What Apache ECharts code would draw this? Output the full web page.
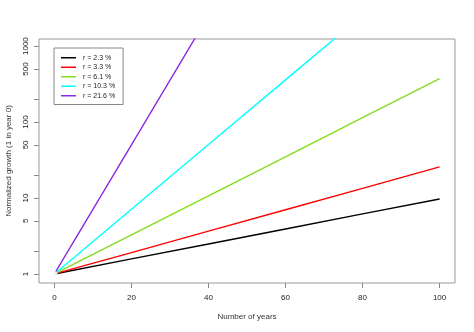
<!DOCTYPE html>
<html>
<head>
<meta charset="utf-8">
<script src="https://cdn.jsdelivr.net/npm/echarts@6/dist/echarts.min.js"></script>
<style>html,body{margin:0;padding:0;background:#fff}#c{width:474px;height:332px}</style>
</head>
<body>
<div id="c"></div>
<script>
// Years sampled along the x axis
const years = [0, 20, 40, 60, 80, 100];
// Normalized growth values (1 in year 0)
const r23  = [1, 1.58, 2.48, 3.91, 6.17, 9.7];
const r33  = [1, 1.91, 3.66, 7.0, 13.4, 25.7];
const r61  = [1, 3.27, 10.7, 34.9, 114, 373];
const r103 = [1, 7.1, 50.5, 359, 2550, 18100];
const r216 = [1, 50.2, 2520];
const seriesNames = ['r = 2.3 %', 'r = 3.3 %', 'r = 6.1 %', 'r = 10.3 %', 'r = 21.6 %'];
const seriesValues = [r23, r33, r61, r103, r216];
const colors = ['#000000', '#ff0000', '#7fdf1f', '#00ffff', '#8b2be2'];
const yTicks = [1, 2, 5, 10, 20, 50, 100, 200, 500, 1000];
const yLabels = [1, 5, 10, 50, 100, 500, 1000];
const xTicks = [0, 20, 40, 60, 80, 100];

const font = 'Liberation Sans, Arial, sans-serif';
const series = seriesNames.map((n, i) => ({
  name: n,
  type: 'line',
  data: seriesValues[i].map((v, k) => [years[k], v]),
  showSymbol: false,
  symbol: 'none',
  clip: true,
  lineStyle: { color: colors[i], width: 1.4 },
  itemStyle: { color: colors[i] },
  z: 3
}));
series.push({
  type: 'scatter',
  data: [[years[0], r23[0]]],
  symbol: 'emptyCircle',
  symbolSize: 4,
  itemStyle: { color: '#fff', borderColor: '#7b7bb0', borderWidth: 1 },
  z: 4,
  silent: true
});

const chart = echarts.init(document.getElementById('c'), null, { renderer: 'canvas' });
chart.setOption({
  animation: false,
  backgroundColor: '#fff',
  grid: { left: 39, right: 19, top: 39, bottom: 49, show: true, borderColor: '#999', borderWidth: 1, containLabel: false, outerBoundsMode: 'none' },
  xAxis: {
    type: 'value', min: -4, max: 104,
    name: 'Number of years', nameLocation: 'middle', nameGap: 30,
    nameTextStyle: { fontFamily: font, fontSize: 8, color: '#333' },
    axisLine: { show: false, onZero: false },
    splitLine: { show: false },
    axisTick: { show: true, length: 5, inside: false, customValues: xTicks, lineStyle: { color: '#888' } },
    axisLabel: { customValues: xTicks, margin: 11, fontFamily: font, fontSize: 8, color: '#222' }
  },
  yAxis: {
    type: 'log', logBase: 10, min: 0.76, max: 1240,
    name: 'Normalized growth (1 in year 0)', nameLocation: 'middle', nameGap: 26, nameRotate: 90,
    nameTextStyle: { fontFamily: font, fontSize: 8, color: '#333' },
    axisLine: { show: false, onZero: false },
    splitLine: { show: false },
    minorTick: { show: false },
    axisTick: { show: true, length: 5, inside: false, customValues: yTicks, lineStyle: { color: '#888' } },
    axisLabel: { customValues: yLabels, rotate: 90, margin: 9, fontFamily: font, fontSize: 8, color: '#222',
      formatter: function (v) { return String(Math.round(v)); } }
  },
  legend: {
    data: seriesNames,
    orient: 'vertical',
    left: 54, top: 48,
    padding: [5, 8, 4, 7],
    backgroundColor: '#fff',
    borderColor: '#888', borderWidth: 1, borderRadius: 0,
    icon: 'rect', itemWidth: 15, itemHeight: 1.5, itemGap: 0,
    textStyle: { fontFamily: font, fontSize: 7, color: '#222', lineHeight: 9.5, padding: [0, 0, 0, 2] },
    selectedMode: false
  },
  series: series
});
</script>
</body>
</html>
